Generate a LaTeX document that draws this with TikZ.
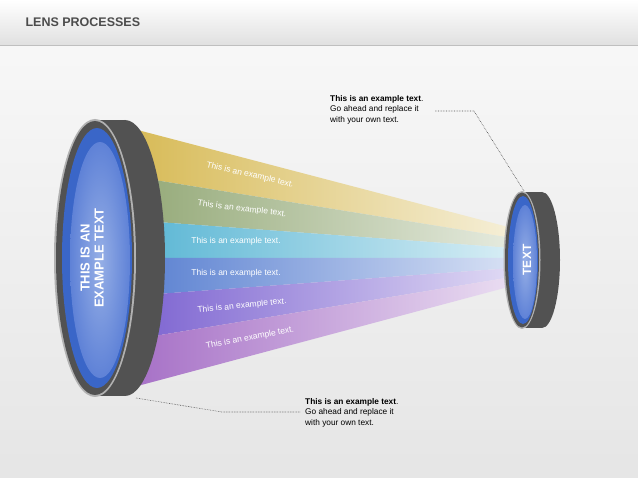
\documentclass[tikz,border=0pt]{standalone}
\usepackage{fontspec}
\setmainfont{Liberation Sans}
\definecolor{c1}{HTML}{D0AE38}\definecolor{c2}{HTML}{80995E}\definecolor{c3}{HTML}{3AA8CC}
\definecolor{c4}{HTML}{3A68C8}\definecolor{c5}{HTML}{6446C8}\definecolor{c6}{HTML}{9656BC}
\definecolor{ring}{RGB}{58,102,200}
\definecolor{facein}{RGB}{150,175,230}
\definecolor{faceout}{RGB}{95,130,215}
\begin{document}
\begin{tikzpicture}[x=1pt,y=-1pt,
  btxt/.style={text=white,font=\fontsize{8.5}{9}\selectfont},
  call/.style={align=left,anchor=north west,font=\fontsize{8.3}{10.5}\selectfont,inner sep=0pt},
  lead/.style={densely dotted,black!70,line width=0.6pt},
  rim/.style={fill=black!68},
  face/.style={inner color=facein,outer color=faceout},
  bm/.style={left color=#1!85,middle color=#1,right color=#1!20},
]
\useasboundingbox (0,0) rectangle (638,478);
\shade[top color=black!3,bottom color=black!10] (0,45) rectangle (638,478);
\shade[top color=white,bottom color=black!12] (0,0) rectangle (638,45);
\draw[black!25] (0,45) -- (638,45);
\node[anchor=west,font=\bfseries\fontsize{12.5}{13}\selectfont,text=black!70] (title) at (22,22) {LENS PROCESSES};
% beams
\shade[bm=c1] (130,128) -- (512,228) -- (512,238) -- (130,176) -- cycle;
\shade[bm=c2] (130,176) -- (512,238) -- (512,248) -- (130,220) -- cycle;
\shade[bm=c3] (130,220) -- (512,248) -- (512,258) -- (130,258) -- cycle;
\shade[bm=c4] (130,258) -- (512,258) -- (512,268) -- (130,296) -- cycle;
\shade[bm=c5] (130,296) -- (512,268) -- (512,277) -- (130,340) -- cycle;
\shade[bm=c6] (130,340) -- (512,277) -- (512,286) -- (130,388) -- cycle;
\node[btxt,rotate=-13] (t1) at (250,175) {This is an example text.};
\node[btxt,rotate=-7] (t2) at (242,209) {This is an example text.};
\node[btxt] (t3) at (236,241) {This is an example text.};
\node[btxt] (t4) at (236,273) {This is an example text.};
\node[btxt,rotate=6] (t5) at (242,306) {This is an example text.};
\node[btxt,rotate=11] (t6) at (250,338) {This is an example text.};
% left lens
\fill[rim] (125,258) ellipse[x radius=40,y radius=138];
\fill[rim] (95,120) rectangle (125,396);
\fill[black!30] (95,258) ellipse[x radius=41,y radius=139];
\fill[black!68] (95,258) ellipse[x radius=39,y radius=137];
\fill[ring] (97,258) ellipse[x radius=35,y radius=130];
\shade[face] (100,260) ellipse[x radius=30,y radius=118];
\node[rotate=90,text=white,align=center,font=\bfseries\fontsize{13}{14}\selectfont] (L) at (92,258) {THIS IS AN\\EXAMPLE TEXT};
% right lens
\fill[rim] (542,260) ellipse[x radius=18,y radius=68];
\fill[rim] (522,192) rectangle (542,328);
\fill[black!30] (522,260) ellipse[x radius=18.5,y radius=69];
\fill[black!68] (522,260) ellipse[x radius=17,y radius=67.5];
\fill[ring] (523,260) ellipse[x radius=15,y radius=64];
\shade[face] (525,262) ellipse[x radius=12,y radius=57];
\node[rotate=90,text=white,font=\bfseries\fontsize{12}{13}\selectfont] (R) at (527,260) {TEXT};
% callouts
\node[call] (k1) at (330,95) {\textbf{This is an example text}.\\Go ahead and replace it\\with your own text.};
\node[call] (k2) at (305,398) {\textbf{This is an example text}.\\Go ahead and replace it\\with your own text.};
\coordinate (a1) at (435,111); \coordinate (a2) at (474,111); \coordinate (a3) at (524,191);
\draw[lead] (a1) -- (a2) -- (a3);
\coordinate (b1) at (136,398); \coordinate (b2) at (222,412); \coordinate (b3) at (300,412);
\draw[lead] (b1) -- (b2) -- (b3);
\end{tikzpicture}
\end{document}
